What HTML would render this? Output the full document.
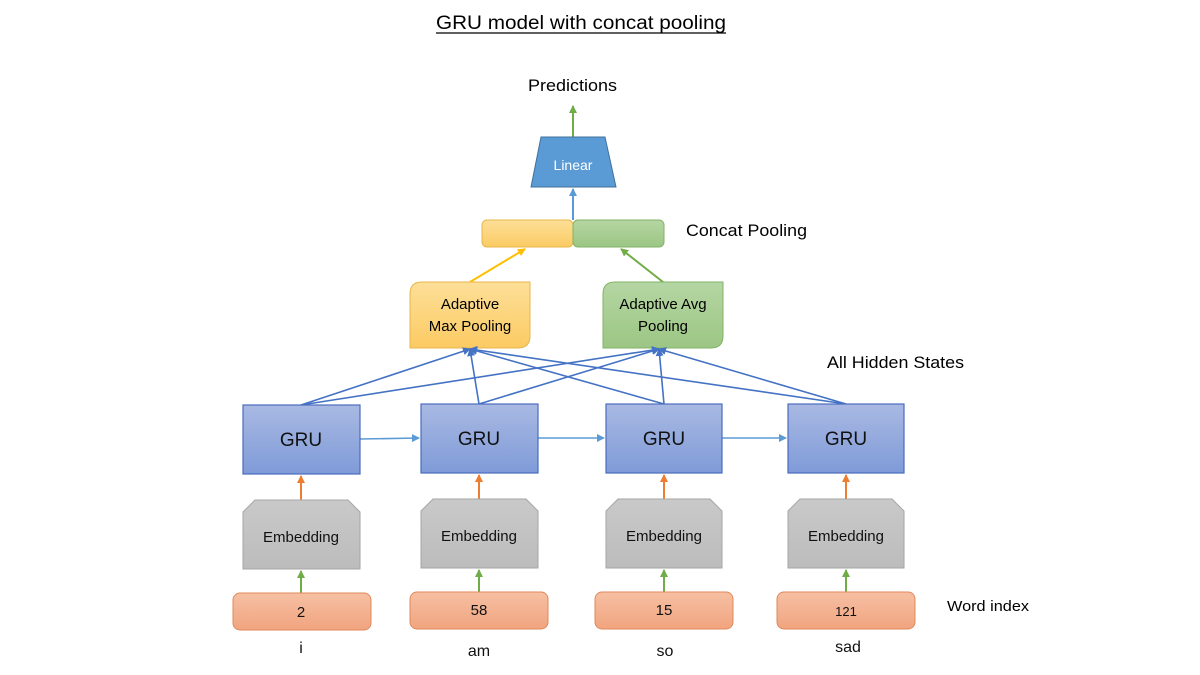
<!DOCTYPE html>
<html><head><meta charset="utf-8"><style>
html,body{margin:0;padding:0;background:#fff;}
svg{display:block;}
text{font-family:"Liberation Sans",sans-serif;}
</style></head><body>
<svg width="1200" height="675" viewBox="0 0 1200 675" xmlns="http://www.w3.org/2000/svg">
<defs>
<linearGradient id="gru" x1="0" y1="0" x2="0" y2="1"><stop offset="0" stop-color="#a9b9e3"/><stop offset="1" stop-color="#7f9bd8"/></linearGradient>
<linearGradient id="emb" x1="0" y1="0" x2="0" y2="1"><stop offset="0" stop-color="#c9c9c9"/><stop offset="1" stop-color="#bcbcbc"/></linearGradient>
<linearGradient id="word" x1="0" y1="0" x2="0" y2="1"><stop offset="0" stop-color="#f6c0a4"/><stop offset="1" stop-color="#f1a47f"/></linearGradient>
<linearGradient id="yel" x1="0" y1="0" x2="0" y2="1"><stop offset="0" stop-color="#fddf98"/><stop offset="1" stop-color="#fbcb63"/></linearGradient>
<linearGradient id="grn" x1="0" y1="0" x2="0" y2="1"><stop offset="0" stop-color="#b5d6a3"/><stop offset="1" stop-color="#9cc684"/></linearGradient>
<marker id="ab" markerWidth="8" markerHeight="8" refX="7" refY="4" orient="auto" markerUnits="userSpaceOnUse"><path d="M0,0 L8,4 L0,8 z" fill="#4472c4"/></marker>
<marker id="ab2" markerWidth="8" markerHeight="8" refX="7" refY="4" orient="auto" markerUnits="userSpaceOnUse"><path d="M0,0 L8,4 L0,8 z" fill="#5b9bd5"/></marker>
<marker id="ag" markerWidth="8" markerHeight="8" refX="7" refY="4" orient="auto" markerUnits="userSpaceOnUse"><path d="M0,0 L8,4 L0,8 z" fill="#70ad47"/></marker>
<marker id="ao" markerWidth="8" markerHeight="8" refX="7" refY="4" orient="auto" markerUnits="userSpaceOnUse"><path d="M0,0 L8,4 L0,8 z" fill="#ed7d31"/></marker>
<marker id="ay" markerWidth="8" markerHeight="8" refX="7" refY="4" orient="auto" markerUnits="userSpaceOnUse"><path d="M0,0 L8,4 L0,8 z" fill="#ffc000"/></marker>
</defs>

<text x="436" y="29" font-size="19" textLength="290" lengthAdjust="spacingAndGlyphs" fill="#000">GRU model with concat pooling</text>
<line x1="436" y1="33" x2="726" y2="33" stroke="#000" stroke-width="1.3"/>

<text x="528" y="91" font-size="17" textLength="89" lengthAdjust="spacingAndGlyphs">Predictions</text>
<line x1="573" y1="137" x2="573" y2="106" stroke="#70ad47" stroke-width="2" marker-end="url(#ag)"/>

<polygon points="541,137 605,137 616,187 531,187" fill="#5b9bd5" stroke="#41719c" stroke-width="1"/>
<text x="573" y="170" font-size="14" text-anchor="middle" fill="#fff">Linear</text>
<line x1="573" y1="220" x2="573" y2="189" stroke="#5b9bd5" stroke-width="2" marker-end="url(#ab2)"/>

<rect x="482" y="220" width="91" height="27" rx="5" fill="url(#yel)" stroke="#e8b54a"/>
<rect x="573" y="220" width="91" height="27" rx="5" fill="url(#grn)" stroke="#82b366"/>
<text x="686" y="236" font-size="17" textLength="121" lengthAdjust="spacingAndGlyphs">Concat Pooling</text>

<line x1="470" y1="282" x2="525" y2="249" stroke="#ffc000" stroke-width="2" marker-end="url(#ay)"/>
<line x1="663" y1="282" x2="621" y2="249" stroke="#70ad47" stroke-width="2" marker-end="url(#ag)"/>

<path d="M422,282 H530 V336 Q530,348 518,348 H410 V294 Q410,282 422,282 Z" fill="url(#yel)" stroke="#e8b54a"/>
<text x="470" y="309" font-size="15" text-anchor="middle">Adaptive</text>
<text x="470" y="331" font-size="15" text-anchor="middle">Max Pooling</text>
<path d="M615,282 H723 V336 Q723,348 711,348 H603 V294 Q603,282 615,282 Z" fill="url(#grn)" stroke="#82b366"/>
<text x="663" y="309" font-size="15" text-anchor="middle">Adaptive Avg</text>
<text x="663" y="331" font-size="15" text-anchor="middle">Pooling</text>

<g stroke="#4472c4" stroke-width="1.6" fill="none">
<line x1="301" y1="405" x2="470" y2="349" marker-end="url(#ab)"/>
<line x1="479" y1="404" x2="470" y2="349" marker-end="url(#ab)"/>
<line x1="664" y1="404" x2="470" y2="349" marker-end="url(#ab)"/>
<line x1="846" y1="404" x2="470" y2="349" marker-end="url(#ab)"/>
<line x1="301" y1="405" x2="659" y2="349" marker-end="url(#ab)"/>
<line x1="479" y1="404" x2="659" y2="349" marker-end="url(#ab)"/>
<line x1="664" y1="404" x2="659" y2="349" marker-end="url(#ab)"/>
<line x1="846" y1="404" x2="659" y2="349" marker-end="url(#ab)"/>
</g>
<text x="827" y="368" font-size="17" textLength="137" lengthAdjust="spacingAndGlyphs">All Hidden States</text>

<g stroke="#5b9bd5" stroke-width="1.6">
<line x1="360" y1="439" x2="419" y2="438" marker-end="url(#ab2)"/>
<line x1="538" y1="438" x2="604" y2="438" marker-end="url(#ab2)"/>
<line x1="722" y1="438" x2="786" y2="438" marker-end="url(#ab2)"/>
</g>

<g stroke="#4a6bbf" stroke-width="1.2" fill="url(#gru)">
<rect x="243" y="405" width="117" height="69"/>
<rect x="421" y="404" width="117" height="69"/>
<rect x="606" y="404" width="116" height="69"/>
<rect x="788" y="404" width="116" height="69"/>
</g>
<g font-size="19" text-anchor="middle" fill="#111">
<text x="301" y="446">GRU</text>
<text x="479" y="445">GRU</text>
<text x="664" y="445">GRU</text>
<text x="846" y="445">GRU</text>
</g>

<g stroke="#ed7d31" stroke-width="2">
<line x1="301" y1="500" x2="301" y2="476" marker-end="url(#ao)"/>
<line x1="479" y1="499" x2="479" y2="475" marker-end="url(#ao)"/>
<line x1="664" y1="499" x2="664" y2="475" marker-end="url(#ao)"/>
<line x1="846" y1="499" x2="846" y2="475" marker-end="url(#ao)"/>
</g>

<g fill="url(#emb)" stroke="#a6a6a6" stroke-width="1">
<polygon points="255,500 348,500 360,512 360,569 243,569 243,512"/>
<polygon points="433,499 526,499 538,511 538,568 421,568 421,511"/>
<polygon points="618,499 710,499 722,511 722,568 606,568 606,511"/>
<polygon points="800,499 892,499 904,511 904,568 788,568 788,511"/>
</g>
<g font-size="15" text-anchor="middle" fill="#111">
<text x="301" y="542">Embedding</text>
<text x="479" y="541">Embedding</text>
<text x="664" y="541">Embedding</text>
<text x="846" y="541">Embedding</text>
</g>

<g stroke="#70ad47" stroke-width="2">
<line x1="301" y1="593" x2="301" y2="571" marker-end="url(#ag)"/>
<line x1="479" y1="592" x2="479" y2="570" marker-end="url(#ag)"/>
<line x1="664" y1="592" x2="664" y2="570" marker-end="url(#ag)"/>
<line x1="846" y1="592" x2="846" y2="570" marker-end="url(#ag)"/>
</g>

<g fill="url(#word)" stroke="#e0895a" stroke-width="1">
<rect x="233" y="593" width="138" height="37" rx="7"/>
<rect x="410" y="592" width="138" height="37" rx="7"/>
<rect x="595" y="592" width="138" height="37" rx="7"/>
<rect x="777" y="592" width="138" height="37" rx="7"/>
</g>
<g font-size="15" text-anchor="middle" fill="#111">
<text x="301" y="617">2</text>
<text x="479" y="615">58</text>
<text x="664" y="615">15</text>
<text x="846" y="616" font-size="13">121</text>
</g>
<text x="947" y="611" font-size="15" textLength="82" lengthAdjust="spacingAndGlyphs">Word index</text>

<g font-size="16" text-anchor="middle" fill="#111">
<text x="301" y="653">i</text>
<text x="479" y="656">am</text>
<text x="665" y="656">so</text>
<text x="848" y="652">sad</text>
</g>
</svg>
</body></html>
